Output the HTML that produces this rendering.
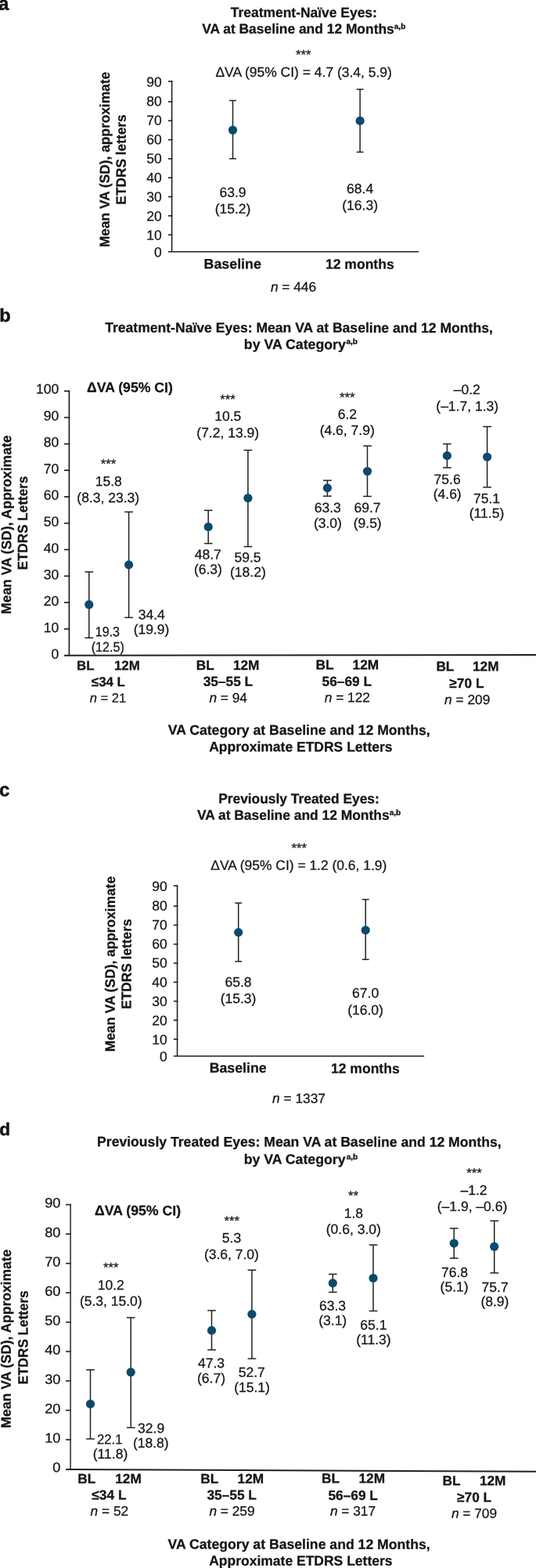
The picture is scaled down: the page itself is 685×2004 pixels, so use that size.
<!DOCTYPE html>
<html lang="en"><head><meta charset="utf-8"><title>Figure</title>
<style>
html,body{margin:0;padding:0;background:#fff}
svg{display:block}
text{font-family:"Liberation Sans",sans-serif;fill:#171314;stroke:#171314;stroke-width:0.26px}
.b{font-weight:bold}
.r{font-weight:normal}
</style></head><body>
<svg width="685" height="2004" viewBox="0 0 685 2004">
<rect width="685" height="2004" fill="#fff"/>
<text class="b" transform="translate(-2.00,12.70) rotate(0.05)" font-size="24" text-anchor="start" style="stroke-width:0.5px">a</text>
<text class="b" transform="translate(388.34,21.90) rotate(0.05)" font-size="17.7" text-anchor="middle" textLength="187.07" lengthAdjust="spacingAndGlyphs">Treatment-Naïve Eyes:</text>
<text class="b" transform="translate(380.95,42.80) rotate(0.05)" font-size="17.7" text-anchor="middle" textLength="245.53" lengthAdjust="spacingAndGlyphs">VA at Baseline and 12 Months</text>
<text class="b" transform="translate(503.80,37.00) rotate(0.05)" font-size="10" style="stroke-width:0.35px">a,b</text>
<text class="r" transform="translate(387.80,75.61) rotate(0.05)" font-size="16.8" text-anchor="middle" style="stroke-width:0.3px">***</text>
<text class="r" transform="translate(388.13,98.10) rotate(0.05)" font-size="17.5" text-anchor="middle" textLength="225.50" lengthAdjust="spacingAndGlyphs">ΔVA (95% CI) = 4.7 (3.4, 5.9)</text>
<line x1="219.60" y1="103.20" x2="219.60" y2="321.70" stroke="#231f20" stroke-width="1.6"/>
<line x1="214.90" y1="104.00" x2="220.40" y2="104.00" stroke="#231f20" stroke-width="1.6"/>
<line x1="214.90" y1="130.00" x2="220.40" y2="130.00" stroke="#231f20" stroke-width="1.6"/>
<line x1="214.90" y1="154.30" x2="220.40" y2="154.30" stroke="#231f20" stroke-width="1.6"/>
<line x1="214.90" y1="178.60" x2="220.40" y2="178.60" stroke="#231f20" stroke-width="1.6"/>
<line x1="214.90" y1="202.90" x2="220.40" y2="202.90" stroke="#231f20" stroke-width="1.6"/>
<line x1="214.90" y1="227.20" x2="220.40" y2="227.20" stroke="#231f20" stroke-width="1.6"/>
<line x1="214.90" y1="251.50" x2="220.40" y2="251.50" stroke="#231f20" stroke-width="1.6"/>
<line x1="214.90" y1="275.80" x2="220.40" y2="275.80" stroke="#231f20" stroke-width="1.6"/>
<line x1="214.90" y1="300.10" x2="220.40" y2="300.10" stroke="#231f20" stroke-width="1.6"/>
<line x1="214.90" y1="321.70" x2="535.20" y2="321.70" stroke="#231f20" stroke-width="1.6"/>
<text class="r" transform="translate(206.80,110.70) rotate(0.05)" font-size="17.5" text-anchor="end">90</text>
<text class="r" transform="translate(206.80,135.35) rotate(0.05)" font-size="17.5" text-anchor="end">80</text>
<text class="r" transform="translate(206.80,159.80) rotate(0.05)" font-size="17.5" text-anchor="end">70</text>
<text class="r" transform="translate(206.80,184.15) rotate(0.05)" font-size="17.5" text-anchor="end">60</text>
<text class="r" transform="translate(206.80,208.50) rotate(0.05)" font-size="17.5" text-anchor="end">50</text>
<text class="r" transform="translate(206.80,233.10) rotate(0.05)" font-size="17.5" text-anchor="end">40</text>
<text class="r" transform="translate(206.80,257.60) rotate(0.05)" font-size="17.5" text-anchor="end">30</text>
<text class="r" transform="translate(206.80,282.20) rotate(0.05)" font-size="17.5" text-anchor="end">20</text>
<text class="r" transform="translate(206.80,306.60) rotate(0.05)" font-size="17.5" text-anchor="end">10</text>
<text class="r" transform="translate(206.80,328.20) rotate(0.05)" font-size="17.5" text-anchor="end">0</text>
<text class="b" transform="translate(139.90,204.00) rotate(-89.95)" font-size="17.7" text-anchor="middle" textLength="224.25" lengthAdjust="spacingAndGlyphs">Mean VA (SD), approximate</text>
<text class="b" transform="translate(160.70,204.00) rotate(-89.95)" font-size="17.7" text-anchor="middle" textLength="115.27" lengthAdjust="spacingAndGlyphs">ETDRS letters</text>
<line x1="297.50" y1="128.50" x2="297.50" y2="202.80" stroke="#231f20" stroke-width="1.5"/>
<line x1="293.05" y1="128.50" x2="301.95" y2="128.50" stroke="#231f20" stroke-width="1.5"/>
<line x1="293.05" y1="202.80" x2="301.95" y2="202.80" stroke="#231f20" stroke-width="1.5"/>
<circle cx="297.50" cy="166.20" r="5.6" fill="#0c4a6c"/>
<line x1="460.10" y1="114.20" x2="460.10" y2="194.40" stroke="#231f20" stroke-width="1.5"/>
<line x1="455.65" y1="114.20" x2="464.55" y2="114.20" stroke="#231f20" stroke-width="1.5"/>
<line x1="455.65" y1="194.40" x2="464.55" y2="194.40" stroke="#231f20" stroke-width="1.5"/>
<circle cx="460.10" cy="154.40" r="5.6" fill="#0c4a6c"/>
<text class="r" transform="translate(297.50,251.70) rotate(0.05)" font-size="17.5" text-anchor="middle">63.9</text>
<text class="r" transform="translate(297.50,272.70) rotate(0.05)" font-size="17.5" text-anchor="middle">(15.2)</text>
<text class="r" transform="translate(460.10,247.00) rotate(0.05)" font-size="17.5" text-anchor="middle">68.4</text>
<text class="r" transform="translate(460.10,268.30) rotate(0.05)" font-size="17.5" text-anchor="middle">(16.3)</text>
<text class="b" transform="translate(297.21,343.20) rotate(0.05)" font-size="17.7" text-anchor="middle" textLength="73.20" lengthAdjust="spacingAndGlyphs">Baseline</text>
<text class="b" transform="translate(459.81,343.60) rotate(0.05)" font-size="17.7" text-anchor="middle" textLength="87.62" lengthAdjust="spacingAndGlyphs">12 months</text>
<text class="r" transform="translate(345.90,372.40) rotate(0.05)" font-size="17.3"><tspan font-style="italic">n</tspan> = 446</text>
<text class="b" transform="translate(-0.80,411.00) rotate(0.05)" font-size="23.5" text-anchor="start" style="stroke-width:0.5px">b</text>
<text class="b" transform="translate(381.99,424.80) rotate(0.05)" font-size="17.7" text-anchor="middle" textLength="495.57" lengthAdjust="spacingAndGlyphs">Treatment-Naïve Eyes: Mean VA at Baseline and 12 Months,</text>
<text class="b" transform="translate(376.81,446.10) rotate(0.05)" font-size="17.7" text-anchor="middle" textLength="129.96" lengthAdjust="spacingAndGlyphs">by VA Category</text>
<text class="b" transform="translate(442.50,439.80) rotate(0.05)" font-size="10" style="stroke-width:0.35px">a,b</text>
<line x1="88.40" y1="499.00" x2="88.40" y2="837.80" stroke="#231f20" stroke-width="1.7"/>
<line x1="82.00" y1="499.80" x2="89.20" y2="499.80" stroke="#231f20" stroke-width="1.7"/>
<line x1="82.00" y1="533.58" x2="89.20" y2="533.58" stroke="#231f20" stroke-width="1.7"/>
<line x1="82.00" y1="567.36" x2="89.20" y2="567.36" stroke="#231f20" stroke-width="1.7"/>
<line x1="82.00" y1="601.14" x2="89.20" y2="601.14" stroke="#231f20" stroke-width="1.7"/>
<line x1="82.00" y1="634.92" x2="89.20" y2="634.92" stroke="#231f20" stroke-width="1.7"/>
<line x1="82.00" y1="668.70" x2="89.20" y2="668.70" stroke="#231f20" stroke-width="1.7"/>
<line x1="82.00" y1="702.48" x2="89.20" y2="702.48" stroke="#231f20" stroke-width="1.7"/>
<line x1="82.00" y1="736.26" x2="89.20" y2="736.26" stroke="#231f20" stroke-width="1.7"/>
<line x1="82.00" y1="770.04" x2="89.20" y2="770.04" stroke="#231f20" stroke-width="1.7"/>
<line x1="82.00" y1="803.82" x2="89.20" y2="803.82" stroke="#231f20" stroke-width="1.7"/>
<line x1="82.00" y1="837.80" x2="685.00" y2="836.90" stroke="#231f20" stroke-width="2.0"/>
<text class="r" transform="translate(75.20,503.10) rotate(0.05)" font-size="17.5" text-anchor="end">100</text>
<text class="r" transform="translate(75.20,537.20) rotate(0.05)" font-size="17.5" text-anchor="end">90</text>
<text class="r" transform="translate(75.20,571.00) rotate(0.05)" font-size="17.5" text-anchor="end">80</text>
<text class="r" transform="translate(75.20,604.90) rotate(0.05)" font-size="17.5" text-anchor="end">70</text>
<text class="r" transform="translate(75.20,638.60) rotate(0.05)" font-size="17.5" text-anchor="end">60</text>
<text class="r" transform="translate(75.20,672.50) rotate(0.05)" font-size="17.5" text-anchor="end">50</text>
<text class="r" transform="translate(75.20,706.60) rotate(0.05)" font-size="17.5" text-anchor="end">40</text>
<text class="r" transform="translate(75.20,740.20) rotate(0.05)" font-size="17.5" text-anchor="end">30</text>
<text class="r" transform="translate(75.20,774.00) rotate(0.05)" font-size="17.5" text-anchor="end">20</text>
<text class="r" transform="translate(75.20,807.90) rotate(0.05)" font-size="17.5" text-anchor="end">10</text>
<text class="r" transform="translate(75.20,841.70) rotate(0.05)" font-size="17.5" text-anchor="end">0</text>
<text class="b" transform="translate(165.98,501.10) rotate(0.05)" font-size="17.7" text-anchor="middle" textLength="109.79" lengthAdjust="spacingAndGlyphs">ΔVA (95% CI)</text>
<text class="r" transform="translate(138.50,598.61) rotate(0.05)" font-size="16.8" text-anchor="middle" style="stroke-width:0.3px">***</text>
<text class="r" transform="translate(138.80,621.00) rotate(0.05)" font-size="17.5" text-anchor="middle">15.8</text>
<text class="r" transform="translate(138.20,641.90) rotate(0.05)" font-size="17.5" text-anchor="middle">(8.3, 23.3)</text>
<line x1="113.80" y1="730.90" x2="113.80" y2="815.20" stroke="#231f20" stroke-width="1.5"/>
<line x1="108.45" y1="730.90" x2="119.15" y2="730.90" stroke="#231f20" stroke-width="1.5"/>
<line x1="108.45" y1="815.20" x2="119.15" y2="815.20" stroke="#231f20" stroke-width="1.5"/>
<circle cx="113.80" cy="772.70" r="5.6" fill="#0c4a6c"/>
<line x1="164.60" y1="654.30" x2="164.60" y2="789.30" stroke="#231f20" stroke-width="1.5"/>
<line x1="159.25" y1="654.30" x2="169.95" y2="654.30" stroke="#231f20" stroke-width="1.5"/>
<line x1="159.25" y1="789.30" x2="169.95" y2="789.30" stroke="#231f20" stroke-width="1.5"/>
<circle cx="164.60" cy="721.90" r="5.6" fill="#0c4a6c"/>
<text class="r" transform="translate(137.44,813.30) rotate(0.05)" font-size="17.5" text-anchor="middle" textLength="31.17" lengthAdjust="spacingAndGlyphs">19.3</text>
<text class="r" transform="translate(137.70,832.80) rotate(0.05)" font-size="17.5" text-anchor="middle" textLength="42.06" lengthAdjust="spacingAndGlyphs">(12.5)</text>
<text class="r" transform="translate(193.80,791.50) rotate(0.05)" font-size="17.5" text-anchor="middle">34.4</text>
<text class="r" transform="translate(193.50,810.30) rotate(0.05)" font-size="17.5" text-anchor="middle">(19.9)</text>
<text class="b" transform="translate(109.30,856.30) rotate(0.05)" font-size="16.9" text-anchor="middle">BL</text>
<text class="b" transform="translate(162.40,856.30) rotate(0.05)" font-size="16.9" text-anchor="middle">12M</text>
<text class="b" transform="translate(138.40,877.10) rotate(0.05)" font-size="16.9" text-anchor="middle">≤34 L</text>
<text class="r" transform="translate(114.73,897.60) rotate(0.05)" font-size="16.5"><tspan font-style="italic">n</tspan> = 21</text>
<text class="r" transform="translate(291.00,516.11) rotate(0.05)" font-size="16.8" text-anchor="middle" style="stroke-width:0.3px">***</text>
<text class="r" transform="translate(291.30,537.80) rotate(0.05)" font-size="17.5" text-anchor="middle">10.5</text>
<text class="r" transform="translate(291.20,558.90) rotate(0.05)" font-size="17.5" text-anchor="middle">(7.2, 13.9)</text>
<line x1="266.20" y1="652.30" x2="266.20" y2="694.60" stroke="#231f20" stroke-width="1.5"/>
<line x1="260.85" y1="652.30" x2="271.55" y2="652.30" stroke="#231f20" stroke-width="1.5"/>
<line x1="260.85" y1="694.60" x2="271.55" y2="694.60" stroke="#231f20" stroke-width="1.5"/>
<circle cx="266.20" cy="673.40" r="5.6" fill="#0c4a6c"/>
<line x1="316.90" y1="575.40" x2="316.90" y2="698.60" stroke="#231f20" stroke-width="1.5"/>
<line x1="311.55" y1="575.40" x2="322.25" y2="575.40" stroke="#231f20" stroke-width="1.5"/>
<line x1="311.55" y1="698.60" x2="322.25" y2="698.60" stroke="#231f20" stroke-width="1.5"/>
<circle cx="316.90" cy="636.50" r="5.6" fill="#0c4a6c"/>
<text class="r" transform="translate(265.70,714.60) rotate(0.05)" font-size="17.5" text-anchor="middle">48.7</text>
<text class="r" transform="translate(265.90,733.40) rotate(0.05)" font-size="17.5" text-anchor="middle">(6.3)</text>
<text class="r" transform="translate(316.50,718.30) rotate(0.05)" font-size="17.5" text-anchor="middle">59.5</text>
<text class="r" transform="translate(316.90,737.00) rotate(0.05)" font-size="17.5" text-anchor="middle">(18.2)</text>
<text class="b" transform="translate(262.20,856.00) rotate(0.05)" font-size="17.3" text-anchor="middle">BL</text>
<text class="b" transform="translate(314.70,856.00) rotate(0.05)" font-size="17.3" text-anchor="middle">12M</text>
<text class="b" transform="translate(291.40,876.80) rotate(0.05)" font-size="17.3" text-anchor="middle">35–55 L</text>
<text class="r" transform="translate(267.41,897.60) rotate(0.05)" font-size="17.3"><tspan font-style="italic">n</tspan> = 94</text>
<text class="r" transform="translate(443.70,513.61) rotate(0.05)" font-size="16.8" text-anchor="middle" style="stroke-width:0.3px">***</text>
<text class="r" transform="translate(443.90,535.30) rotate(0.05)" font-size="17.5" text-anchor="middle">6.2</text>
<text class="r" transform="translate(443.70,555.70) rotate(0.05)" font-size="17.5" text-anchor="middle">(4.6, 7.9)</text>
<line x1="418.40" y1="614.00" x2="418.40" y2="634.10" stroke="#231f20" stroke-width="1.5"/>
<line x1="413.05" y1="614.00" x2="423.75" y2="614.00" stroke="#231f20" stroke-width="1.5"/>
<line x1="413.05" y1="634.10" x2="423.75" y2="634.10" stroke="#231f20" stroke-width="1.5"/>
<circle cx="418.40" cy="623.60" r="5.6" fill="#0c4a6c"/>
<line x1="469.50" y1="569.90" x2="469.50" y2="634.40" stroke="#231f20" stroke-width="1.5"/>
<line x1="464.15" y1="569.90" x2="474.85" y2="569.90" stroke="#231f20" stroke-width="1.5"/>
<line x1="464.15" y1="634.40" x2="474.85" y2="634.40" stroke="#231f20" stroke-width="1.5"/>
<circle cx="469.50" cy="602.30" r="5.6" fill="#0c4a6c"/>
<text class="r" transform="translate(418.70,654.70) rotate(0.05)" font-size="17.5" text-anchor="middle">63.3</text>
<text class="r" transform="translate(418.90,674.40) rotate(0.05)" font-size="17.5" text-anchor="middle">(3.0)</text>
<text class="r" transform="translate(469.50,654.70) rotate(0.05)" font-size="17.5" text-anchor="middle">69.7</text>
<text class="r" transform="translate(469.70,674.40) rotate(0.05)" font-size="17.5" text-anchor="middle">(9.5)</text>
<text class="b" transform="translate(415.00,855.60) rotate(0.05)" font-size="17.3" text-anchor="middle">BL</text>
<text class="b" transform="translate(467.40,855.60) rotate(0.05)" font-size="17.3" text-anchor="middle">12M</text>
<text class="b" transform="translate(443.30,876.70) rotate(0.05)" font-size="17.3" text-anchor="middle">56–69 L</text>
<text class="r" transform="translate(414.80,897.20) rotate(0.05)" font-size="17.3"><tspan font-style="italic">n</tspan> = 122</text>
<text class="r" transform="translate(596.80,503.70) rotate(0.05)" font-size="17.5" text-anchor="middle">–0.2</text>
<text class="r" transform="translate(597.20,524.90) rotate(0.05)" font-size="17.5" text-anchor="middle">(–1.7, 1.3)</text>
<line x1="571.40" y1="567.40" x2="571.40" y2="597.70" stroke="#231f20" stroke-width="1.5"/>
<line x1="566.05" y1="567.40" x2="576.75" y2="567.40" stroke="#231f20" stroke-width="1.5"/>
<line x1="566.05" y1="597.70" x2="576.75" y2="597.70" stroke="#231f20" stroke-width="1.5"/>
<circle cx="571.40" cy="582.40" r="5.6" fill="#0c4a6c"/>
<line x1="622.60" y1="545.30" x2="622.60" y2="622.70" stroke="#231f20" stroke-width="1.5"/>
<line x1="617.25" y1="545.30" x2="627.95" y2="545.30" stroke="#231f20" stroke-width="1.5"/>
<line x1="617.25" y1="622.70" x2="627.95" y2="622.70" stroke="#231f20" stroke-width="1.5"/>
<circle cx="622.60" cy="584.00" r="5.6" fill="#0c4a6c"/>
<text class="r" transform="translate(571.60,618.50) rotate(0.05)" font-size="17.5" text-anchor="middle">75.6</text>
<text class="r" transform="translate(571.70,637.30) rotate(0.05)" font-size="17.5" text-anchor="middle">(4.6)</text>
<text class="r" transform="translate(622.00,643.10) rotate(0.05)" font-size="17.5" text-anchor="middle">75.1</text>
<text class="r" transform="translate(622.00,661.80) rotate(0.05)" font-size="17.5" text-anchor="middle">(11.5)</text>
<text class="b" transform="translate(568.90,857.40) rotate(0.05)" font-size="17.3" text-anchor="middle">BL</text>
<text class="b" transform="translate(620.80,857.40) rotate(0.05)" font-size="17.3" text-anchor="middle">12M</text>
<text class="b" transform="translate(596.40,879.00) rotate(0.05)" font-size="17.3" text-anchor="middle">≥70 L</text>
<text class="r" transform="translate(568.10,899.90) rotate(0.05)" font-size="17.3"><tspan font-style="italic">n</tspan> = 209</text>
<text class="b" transform="translate(382.23,939.00) rotate(0.05)" font-size="17.7" text-anchor="middle" textLength="334.90" lengthAdjust="spacingAndGlyphs">VA Category at Baseline and 12 Months,</text>
<text class="b" transform="translate(384.34,960.40) rotate(0.05)" font-size="17.7" text-anchor="middle" textLength="234.35" lengthAdjust="spacingAndGlyphs">Approximate ETDRS Letters</text>
<text class="b" transform="translate(14.20,670.60) rotate(-89.95)" font-size="17.7" text-anchor="middle" textLength="228.57" lengthAdjust="spacingAndGlyphs">Mean VA (SD), Approximate</text>
<text class="b" transform="translate(35.00,668.50) rotate(-89.95)" font-size="17.7" text-anchor="middle" textLength="120.15" lengthAdjust="spacingAndGlyphs">ETDRS Letters</text>
<text class="b" transform="translate(-1.10,1017.60) rotate(0.05)" font-size="24" text-anchor="start" style="stroke-width:0.5px">c</text>
<text class="b" transform="translate(381.95,1026.70) rotate(0.05)" font-size="17.7" text-anchor="middle" textLength="205.63" lengthAdjust="spacingAndGlyphs">Previously Treated Eyes:</text>
<text class="b" transform="translate(374.75,1047.70) rotate(0.05)" font-size="17.7" text-anchor="middle" textLength="245.73" lengthAdjust="spacingAndGlyphs">VA at Baseline and 12 Months</text>
<text class="b" transform="translate(497.70,1041.70) rotate(0.05)" font-size="10" style="stroke-width:0.35px">a,b</text>
<text class="r" transform="translate(382.30,1089.41) rotate(0.05)" font-size="16.8" text-anchor="middle" style="stroke-width:0.3px">***</text>
<text class="r" transform="translate(381.78,1111.80) rotate(0.05)" font-size="17.5" text-anchor="middle" textLength="225.00" lengthAdjust="spacingAndGlyphs">ΔVA (95% CI) = 1.2 (0.6, 1.9)</text>
<line x1="226.55" y1="1131.30" x2="226.55" y2="1349.80" stroke="#231f20" stroke-width="1.6"/>
<line x1="221.85" y1="1132.10" x2="227.35" y2="1132.10" stroke="#231f20" stroke-width="1.6"/>
<line x1="221.85" y1="1158.10" x2="227.35" y2="1158.10" stroke="#231f20" stroke-width="1.6"/>
<line x1="221.85" y1="1182.40" x2="227.35" y2="1182.40" stroke="#231f20" stroke-width="1.6"/>
<line x1="221.85" y1="1206.70" x2="227.35" y2="1206.70" stroke="#231f20" stroke-width="1.6"/>
<line x1="221.85" y1="1231.00" x2="227.35" y2="1231.00" stroke="#231f20" stroke-width="1.6"/>
<line x1="221.85" y1="1255.30" x2="227.35" y2="1255.30" stroke="#231f20" stroke-width="1.6"/>
<line x1="221.85" y1="1279.60" x2="227.35" y2="1279.60" stroke="#231f20" stroke-width="1.6"/>
<line x1="221.85" y1="1303.90" x2="227.35" y2="1303.90" stroke="#231f20" stroke-width="1.6"/>
<line x1="221.85" y1="1328.20" x2="227.35" y2="1328.20" stroke="#231f20" stroke-width="1.6"/>
<line x1="221.85" y1="1349.80" x2="542.15" y2="1349.80" stroke="#231f20" stroke-width="1.6"/>
<text class="r" transform="translate(213.75,1138.80) rotate(0.05)" font-size="17.5" text-anchor="end">90</text>
<text class="r" transform="translate(213.75,1163.45) rotate(0.05)" font-size="17.5" text-anchor="end">80</text>
<text class="r" transform="translate(213.75,1187.90) rotate(0.05)" font-size="17.5" text-anchor="end">70</text>
<text class="r" transform="translate(213.75,1212.25) rotate(0.05)" font-size="17.5" text-anchor="end">60</text>
<text class="r" transform="translate(213.75,1236.60) rotate(0.05)" font-size="17.5" text-anchor="end">50</text>
<text class="r" transform="translate(213.75,1261.20) rotate(0.05)" font-size="17.5" text-anchor="end">40</text>
<text class="r" transform="translate(213.75,1285.70) rotate(0.05)" font-size="17.5" text-anchor="end">30</text>
<text class="r" transform="translate(213.75,1310.30) rotate(0.05)" font-size="17.5" text-anchor="end">20</text>
<text class="r" transform="translate(213.75,1334.70) rotate(0.05)" font-size="17.5" text-anchor="end">10</text>
<text class="r" transform="translate(213.75,1356.30) rotate(0.05)" font-size="17.5" text-anchor="end">0</text>
<text class="b" transform="translate(146.85,1232.10) rotate(-89.95)" font-size="17.7" text-anchor="middle" textLength="224.25" lengthAdjust="spacingAndGlyphs">Mean VA (SD), approximate</text>
<text class="b" transform="translate(167.65,1232.10) rotate(-89.95)" font-size="17.7" text-anchor="middle" textLength="115.27" lengthAdjust="spacingAndGlyphs">ETDRS letters</text>
<line x1="304.70" y1="1154.10" x2="304.70" y2="1228.80" stroke="#231f20" stroke-width="1.5"/>
<line x1="300.25" y1="1154.10" x2="309.15" y2="1154.10" stroke="#231f20" stroke-width="1.5"/>
<line x1="300.25" y1="1228.80" x2="309.15" y2="1228.80" stroke="#231f20" stroke-width="1.5"/>
<circle cx="304.70" cy="1191.60" r="5.6" fill="#0c4a6c"/>
<line x1="467.20" y1="1149.60" x2="467.20" y2="1226.30" stroke="#231f20" stroke-width="1.5"/>
<line x1="462.75" y1="1149.60" x2="471.65" y2="1149.60" stroke="#231f20" stroke-width="1.5"/>
<line x1="462.75" y1="1226.30" x2="471.65" y2="1226.30" stroke="#231f20" stroke-width="1.5"/>
<circle cx="467.20" cy="1188.80" r="5.6" fill="#0c4a6c"/>
<text class="r" transform="translate(304.50,1261.00) rotate(0.05)" font-size="17.5" text-anchor="middle">65.8</text>
<text class="r" transform="translate(304.50,1282.00) rotate(0.05)" font-size="17.5" text-anchor="middle">(15.3)</text>
<text class="r" transform="translate(467.10,1275.00) rotate(0.05)" font-size="17.5" text-anchor="middle">67.0</text>
<text class="r" transform="translate(467.00,1296.70) rotate(0.05)" font-size="17.5" text-anchor="middle">(16.0)</text>
<text class="b" transform="translate(304.16,1370.80) rotate(0.05)" font-size="17.7" text-anchor="middle" textLength="72.89" lengthAdjust="spacingAndGlyphs">Baseline</text>
<text class="b" transform="translate(466.81,1371.60) rotate(0.05)" font-size="17.7" text-anchor="middle" textLength="87.62" lengthAdjust="spacingAndGlyphs">12 months</text>
<text class="r" transform="translate(348.09,1409.60) rotate(0.05)" font-size="17.3"><tspan font-style="italic">n</tspan> = 1337</text>
<text class="b" transform="translate(-0.80,1451.00) rotate(0.05)" font-size="22.6" text-anchor="start" style="stroke-width:0.5px">d</text>
<text class="b" transform="translate(382.30,1465.30) rotate(0.05)" font-size="17.7" text-anchor="middle" textLength="516.56" lengthAdjust="spacingAndGlyphs">Previously Treated Eyes: Mean VA at Baseline and 12 Months,</text>
<text class="b" transform="translate(376.61,1487.60) rotate(0.05)" font-size="17.7" text-anchor="middle" textLength="129.76" lengthAdjust="spacingAndGlyphs">by VA Category</text>
<text class="b" transform="translate(442.70,1481.70) rotate(0.05)" font-size="10" style="stroke-width:0.35px">a,b</text>
<line x1="90.10" y1="1538.80" x2="90.10" y2="1878.00" stroke="#383435" stroke-width="1.6"/>
<line x1="84.00" y1="1539.60" x2="90.90" y2="1539.60" stroke="#2c2829" stroke-width="1.7"/>
<line x1="84.00" y1="1577.15" x2="90.90" y2="1577.15" stroke="#2c2829" stroke-width="1.7"/>
<line x1="84.00" y1="1614.70" x2="90.90" y2="1614.70" stroke="#2c2829" stroke-width="1.7"/>
<line x1="84.00" y1="1652.25" x2="90.90" y2="1652.25" stroke="#2c2829" stroke-width="1.7"/>
<line x1="84.00" y1="1689.80" x2="90.90" y2="1689.80" stroke="#2c2829" stroke-width="1.7"/>
<line x1="84.00" y1="1727.35" x2="90.90" y2="1727.35" stroke="#2c2829" stroke-width="1.7"/>
<line x1="84.00" y1="1764.90" x2="90.90" y2="1764.90" stroke="#2c2829" stroke-width="1.7"/>
<line x1="84.00" y1="1802.45" x2="90.90" y2="1802.45" stroke="#2c2829" stroke-width="1.7"/>
<line x1="84.00" y1="1840.00" x2="90.90" y2="1840.00" stroke="#2c2829" stroke-width="1.7"/>
<line x1="84.00" y1="1878.00" x2="685.00" y2="1880.70" stroke="#231f20" stroke-width="2.0"/>
<text class="r" transform="translate(77.40,1543.35) rotate(0.05)" font-size="17.5" text-anchor="end" textLength="20.24" lengthAdjust="spacingAndGlyphs">90</text>
<text class="r" transform="translate(77.40,1580.90) rotate(0.05)" font-size="17.5" text-anchor="end" textLength="20.24" lengthAdjust="spacingAndGlyphs">80</text>
<text class="r" transform="translate(77.40,1618.45) rotate(0.05)" font-size="17.5" text-anchor="end" textLength="20.24" lengthAdjust="spacingAndGlyphs">70</text>
<text class="r" transform="translate(77.40,1656.00) rotate(0.05)" font-size="17.5" text-anchor="end" textLength="20.24" lengthAdjust="spacingAndGlyphs">60</text>
<text class="r" transform="translate(77.40,1693.55) rotate(0.05)" font-size="17.5" text-anchor="end" textLength="20.24" lengthAdjust="spacingAndGlyphs">50</text>
<text class="r" transform="translate(77.40,1731.10) rotate(0.05)" font-size="17.5" text-anchor="end" textLength="20.24" lengthAdjust="spacingAndGlyphs">40</text>
<text class="r" transform="translate(77.40,1768.65) rotate(0.05)" font-size="17.5" text-anchor="end" textLength="20.24" lengthAdjust="spacingAndGlyphs">30</text>
<text class="r" transform="translate(77.40,1806.20) rotate(0.05)" font-size="17.5" text-anchor="end" textLength="20.24" lengthAdjust="spacingAndGlyphs">20</text>
<text class="r" transform="translate(77.40,1843.75) rotate(0.05)" font-size="17.5" text-anchor="end" textLength="20.24" lengthAdjust="spacingAndGlyphs">10</text>
<text class="r" transform="translate(77.40,1881.35) rotate(0.05)" font-size="17.5" text-anchor="end" textLength="10.12" lengthAdjust="spacingAndGlyphs">0</text>
<text class="b" transform="translate(176.03,1553.10) rotate(0.05)" font-size="17.7" text-anchor="middle" textLength="110.10" lengthAdjust="spacingAndGlyphs">ΔVA (95% CI)</text>
<text class="r" transform="translate(141.70,1625.61) rotate(0.05)" font-size="16.8" text-anchor="middle" style="stroke-width:0.3px">***</text>
<text class="r" transform="translate(141.80,1648.30) rotate(0.05)" font-size="17.5" text-anchor="middle">10.2</text>
<text class="r" transform="translate(141.80,1668.80) rotate(0.05)" font-size="17.5" text-anchor="middle">(5.3, 15.0)</text>
<line x1="115.50" y1="1750.70" x2="115.50" y2="1839.00" stroke="#231f20" stroke-width="1.5"/>
<line x1="110.15" y1="1750.70" x2="120.85" y2="1750.70" stroke="#231f20" stroke-width="1.5"/>
<line x1="110.15" y1="1839.00" x2="120.85" y2="1839.00" stroke="#231f20" stroke-width="1.5"/>
<circle cx="115.50" cy="1794.40" r="5.6" fill="#0c4a6c"/>
<line x1="167.20" y1="1684.00" x2="167.20" y2="1824.60" stroke="#231f20" stroke-width="1.5"/>
<line x1="161.85" y1="1684.00" x2="172.55" y2="1684.00" stroke="#231f20" stroke-width="1.5"/>
<line x1="161.85" y1="1824.60" x2="172.55" y2="1824.60" stroke="#231f20" stroke-width="1.5"/>
<circle cx="167.20" cy="1753.70" r="5.6" fill="#0c4a6c"/>
<text class="r" transform="translate(140.19,1845.40) rotate(0.05)" font-size="17.5" text-anchor="middle" textLength="32.36" lengthAdjust="spacingAndGlyphs">22.1</text>
<text class="r" transform="translate(141.00,1863.90) rotate(0.05)" font-size="17.5" text-anchor="middle">(11.8)</text>
<text class="r" transform="translate(193.10,1831.30) rotate(0.05)" font-size="17.5" text-anchor="middle">32.9</text>
<text class="r" transform="translate(192.80,1850.10) rotate(0.05)" font-size="17.5" text-anchor="middle">(18.8)</text>
<text class="b" transform="translate(110.80,1895.80) rotate(0.05)" font-size="17.3" text-anchor="middle">BL</text>
<text class="b" transform="translate(164.00,1895.80) rotate(0.05)" font-size="17.3" text-anchor="middle">12M</text>
<text class="b" transform="translate(139.40,1916.60) rotate(0.05)" font-size="17.3" text-anchor="middle">≤34 L</text>
<text class="r" transform="translate(115.61,1937.00) rotate(0.05)" font-size="17.3"><tspan font-style="italic">n</tspan> = 52</text>
<text class="r" transform="translate(296.20,1566.01) rotate(0.05)" font-size="16.8" text-anchor="middle" style="stroke-width:0.3px">***</text>
<text class="r" transform="translate(296.00,1587.90) rotate(0.05)" font-size="17.5" text-anchor="middle">5.3</text>
<text class="r" transform="translate(295.90,1609.10) rotate(0.05)" font-size="17.5" text-anchor="middle">(3.6, 7.0)</text>
<line x1="270.50" y1="1674.90" x2="270.50" y2="1725.20" stroke="#231f20" stroke-width="1.5"/>
<line x1="265.15" y1="1674.90" x2="275.85" y2="1674.90" stroke="#231f20" stroke-width="1.5"/>
<line x1="265.15" y1="1725.20" x2="275.85" y2="1725.20" stroke="#231f20" stroke-width="1.5"/>
<circle cx="270.50" cy="1700.40" r="5.6" fill="#0c4a6c"/>
<line x1="321.90" y1="1623.20" x2="321.90" y2="1736.50" stroke="#231f20" stroke-width="1.5"/>
<line x1="316.55" y1="1623.20" x2="327.25" y2="1623.20" stroke="#231f20" stroke-width="1.5"/>
<line x1="316.55" y1="1736.50" x2="327.25" y2="1736.50" stroke="#231f20" stroke-width="1.5"/>
<circle cx="321.90" cy="1679.60" r="5.6" fill="#0c4a6c"/>
<text class="r" transform="translate(270.00,1748.00) rotate(0.05)" font-size="17.5" text-anchor="middle">47.3</text>
<text class="r" transform="translate(270.00,1767.20) rotate(0.05)" font-size="17.5" text-anchor="middle">(6.7)</text>
<text class="r" transform="translate(321.80,1759.80) rotate(0.05)" font-size="17.5" text-anchor="middle">52.7</text>
<text class="r" transform="translate(322.00,1778.90) rotate(0.05)" font-size="17.5" text-anchor="middle">(15.1)</text>
<text class="b" transform="translate(267.70,1895.80) rotate(0.05)" font-size="17.3" text-anchor="middle">BL</text>
<text class="b" transform="translate(320.40,1895.80) rotate(0.05)" font-size="17.3" text-anchor="middle">12M</text>
<text class="b" transform="translate(296.20,1916.60) rotate(0.05)" font-size="17.3" text-anchor="middle">35–55 L</text>
<text class="r" transform="translate(267.40,1937.00) rotate(0.05)" font-size="17.3"><tspan font-style="italic">n</tspan> = 259</text>
<text class="r" transform="translate(451.60,1533.81) rotate(0.05)" font-size="16.8" text-anchor="middle" style="stroke-width:0.3px">**</text>
<text class="r" transform="translate(451.80,1556.60) rotate(0.05)" font-size="17.5" text-anchor="middle">1.8</text>
<text class="r" transform="translate(451.80,1576.90) rotate(0.05)" font-size="17.5" text-anchor="middle">(0.6, 3.0)</text>
<line x1="425.30" y1="1628.50" x2="425.30" y2="1651.50" stroke="#231f20" stroke-width="1.5"/>
<line x1="419.95" y1="1628.50" x2="430.65" y2="1628.50" stroke="#231f20" stroke-width="1.5"/>
<line x1="419.95" y1="1651.50" x2="430.65" y2="1651.50" stroke="#231f20" stroke-width="1.5"/>
<circle cx="425.30" cy="1639.90" r="5.6" fill="#0c4a6c"/>
<line x1="477.00" y1="1591.10" x2="477.00" y2="1675.50" stroke="#231f20" stroke-width="1.5"/>
<line x1="471.65" y1="1591.10" x2="482.35" y2="1591.10" stroke="#231f20" stroke-width="1.5"/>
<line x1="471.65" y1="1675.50" x2="482.35" y2="1675.50" stroke="#231f20" stroke-width="1.5"/>
<circle cx="477.00" cy="1633.50" r="5.6" fill="#0c4a6c"/>
<text class="r" transform="translate(425.00,1674.70) rotate(0.05)" font-size="17.5" text-anchor="middle">63.3</text>
<text class="r" transform="translate(425.20,1693.40) rotate(0.05)" font-size="17.5" text-anchor="middle">(3.1)</text>
<text class="r" transform="translate(477.40,1699.30) rotate(0.05)" font-size="17.5" text-anchor="middle">65.1</text>
<text class="r" transform="translate(477.40,1718.00) rotate(0.05)" font-size="17.5" text-anchor="middle">(11.3)</text>
<text class="b" transform="translate(422.50,1895.30) rotate(0.05)" font-size="17.3" text-anchor="middle">BL</text>
<text class="b" transform="translate(475.30,1895.30) rotate(0.05)" font-size="17.3" text-anchor="middle">12M</text>
<text class="b" transform="translate(451.20,1917.00) rotate(0.05)" font-size="17.3" text-anchor="middle">56–69 L</text>
<text class="r" transform="translate(421.90,1936.90) rotate(0.05)" font-size="17.3"><tspan font-style="italic">n</tspan> = 317</text>
<text class="r" transform="translate(606.00,1504.71) rotate(0.05)" font-size="16.8" text-anchor="middle" style="stroke-width:0.3px">***</text>
<text class="r" transform="translate(605.50,1527.00) rotate(0.05)" font-size="17.5" text-anchor="middle">–1.2</text>
<text class="r" transform="translate(603.50,1547.80) rotate(0.05)" font-size="17.5" text-anchor="middle">(–1.9, –0.6)</text>
<line x1="580.20" y1="1569.90" x2="580.20" y2="1608.10" stroke="#231f20" stroke-width="1.5"/>
<line x1="574.85" y1="1569.90" x2="585.55" y2="1569.90" stroke="#231f20" stroke-width="1.5"/>
<line x1="574.85" y1="1608.10" x2="585.55" y2="1608.10" stroke="#231f20" stroke-width="1.5"/>
<circle cx="580.20" cy="1589.00" r="5.6" fill="#0c4a6c"/>
<line x1="631.70" y1="1560.30" x2="631.70" y2="1626.90" stroke="#231f20" stroke-width="1.5"/>
<line x1="626.35" y1="1560.30" x2="637.05" y2="1560.30" stroke="#231f20" stroke-width="1.5"/>
<line x1="626.35" y1="1626.90" x2="637.05" y2="1626.90" stroke="#231f20" stroke-width="1.5"/>
<circle cx="631.70" cy="1593.20" r="5.6" fill="#0c4a6c"/>
<text class="r" transform="translate(581.00,1631.90) rotate(0.05)" font-size="17.5" text-anchor="middle">76.8</text>
<text class="r" transform="translate(580.60,1650.60) rotate(0.05)" font-size="17.5" text-anchor="middle">(5.1)</text>
<text class="r" transform="translate(632.60,1651.00) rotate(0.05)" font-size="17.5" text-anchor="middle">75.7</text>
<text class="r" transform="translate(632.40,1669.30) rotate(0.05)" font-size="17.5" text-anchor="middle">(8.9)</text>
<text class="b" transform="translate(577.00,1898.30) rotate(0.05)" font-size="17.3" text-anchor="middle">BL</text>
<text class="b" transform="translate(629.70,1898.30) rotate(0.05)" font-size="17.3" text-anchor="middle">12M</text>
<text class="b" transform="translate(606.10,1919.50) rotate(0.05)" font-size="17.3" text-anchor="middle">≥70 L</text>
<text class="r" transform="translate(576.90,1939.90) rotate(0.05)" font-size="17.3"><tspan font-style="italic">n</tspan> = 709</text>
<text class="b" transform="translate(382.13,1979.60) rotate(0.05)" font-size="17.7" text-anchor="middle" textLength="335.10" lengthAdjust="spacingAndGlyphs">VA Category at Baseline and 12 Months,</text>
<text class="b" transform="translate(384.34,2000.70) rotate(0.05)" font-size="17.7" text-anchor="middle" textLength="234.35" lengthAdjust="spacingAndGlyphs">Approximate ETDRS Letters</text>
<text class="b" transform="translate(13.80,1711.00) rotate(-89.95)" font-size="17.7" text-anchor="middle" textLength="228.57" lengthAdjust="spacingAndGlyphs">Mean VA (SD), Approximate</text>
<text class="b" transform="translate(35.60,1709.50) rotate(-89.95)" font-size="17.7" text-anchor="middle" textLength="120.15" lengthAdjust="spacingAndGlyphs">ETDRS Letters</text>
</svg>
</body></html>
